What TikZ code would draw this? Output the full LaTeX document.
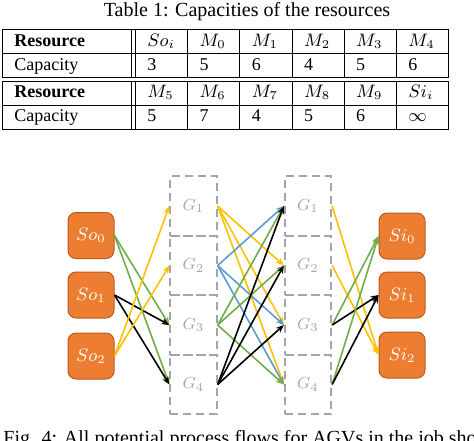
\documentclass[tikz,border=0pt]{standalone}
\usepackage{fontspec}
\setmainfont{Liberation Serif}
\usetikzlibrary{arrows.meta,positioning}

\definecolor{resorange}{HTML}{ED7D31}
\definecolor{resedge}{HTML}{B95A1E}
\definecolor{flowyellow}{HTML}{FFC000}
\definecolor{flowgreen}{HTML}{70AD47}
\definecolor{flowblue}{HTML}{5B9BD5}
\definecolor{grpgray}{HTML}{A5A5A5}

\begin{document}
\begin{tikzpicture}[x=0.5pt, y=-0.5pt,
					src/.style={rectangle, rounded corners=4pt, draw=resedge, line width=0.5pt, fill=resorange, text=white, minimum width=23pt, minimum height=23pt, inner sep=0pt, font=\fontsize{9}{10}\selectfont},
					grp/.style={rectangle, draw=grpgray, line width=0.9pt, dash pattern=on 4pt off 2.5pt, text=grpgray, minimum width=23.25pt, minimum height=29.75pt, inner sep=0pt, font=\fontsize{8}{9}\selectfont},
					flow/.style={line width=0.8pt, -{Stealth[length=4pt,width=3.2pt]}}]
	\useasboundingbox (0,0) rectangle (474,440);
	\clip (0,0) rectangle (474,440);

	% table
	\node[anchor=base] (title) at (247,16) {\fontsize{10}{12}\selectfont Table 1: Capacities of the resources};
	\node[anchor=north west, inner sep=0pt] (tab) at (2,29) {\fontsize{9}{11.5}\selectfont
		\begin{tabular}{|p{52.5pt}||p{14.1pt}|p{14.1pt}|p{14.1pt}|p{14.1pt}|p{14.1pt}|p{14.1pt}|}
			\hline
			\textbf{Resource} & $So_i$ & $M_0$ & $M_1$ & $M_2$ & $M_3$ & $M_4$ \\ \hline
			Capacity & 3 & 5 & 6 & 4 & 5 & 6 \\ \hline\hline
			\textbf{Resource} & $M_5$ & $M_6$ & $M_7$ & $M_8$ & $M_9$ & $Si_i$ \\ \hline
			Capacity & 5 & 7 & 4 & 5 & 6 & $\infty$ \\ \hline
		\end{tabular}};

	% sources and sinks
	\node[src] (so0) at (91,235.5) {$So_0$};
	\node[src] (so1) at (91,295) {$So_1$};
	\node[src] (so2) at (91,356) {$So_2$};
	\node[src] (si0) at (402,236) {$Si_0$};
	\node[src] (si1) at (402,295) {$Si_1$};
	\node[src] (si2) at (402,355) {$Si_2$};

	% groups
	\foreach \i/\y in {1/206,2/265.5,3/325,4/384.5} {
		\node[grp] (ga\i) at (193.5,\y) {$G_\i$};
		\node[grp] (gb\i) at (308,\y) {$G_\i$};
	}

	% flows
	\foreach \j in {3,4} {
		\draw[flow, flowgreen] (so0.east) -- (ga\j.west);
		\draw[flow, black] (so1.east) -- (ga\j.west);
	}
	\foreach \j in {1,2} \draw[flow, flowyellow] (so2.east) -- (ga\j.west);

	\foreach \j in {2,3,4} \draw[flow, flowyellow] (ga1.east) -- (gb\j.west);
	\foreach \j in {1,3,4} \draw[flow, flowblue] (ga2.east) -- (gb\j.west);
	\foreach \j in {1,2,4} \draw[flow, flowgreen] (ga3.east) -- (gb\j.west);
	\foreach \j in {1,2,3} \draw[flow, black] (ga4.east) -- (gb\j.west);

	\foreach \j in {1,2} \draw[flow, flowyellow] (gb\j.east) -- (si2.west);
	\foreach \j in {3,4} {
		\draw[flow, flowgreen] (gb\j.east) -- (si0.west);
		\draw[flow, black] (gb\j.east) -- (si1.west);
	}

	% caption
	\node[anchor=base west, inner sep=0pt] (caption) at (3,444) {\fontsize{10}{12}\selectfont Fig. 4: All potential process flows for AGVs in the job shop};
\end{tikzpicture}
\end{document}
